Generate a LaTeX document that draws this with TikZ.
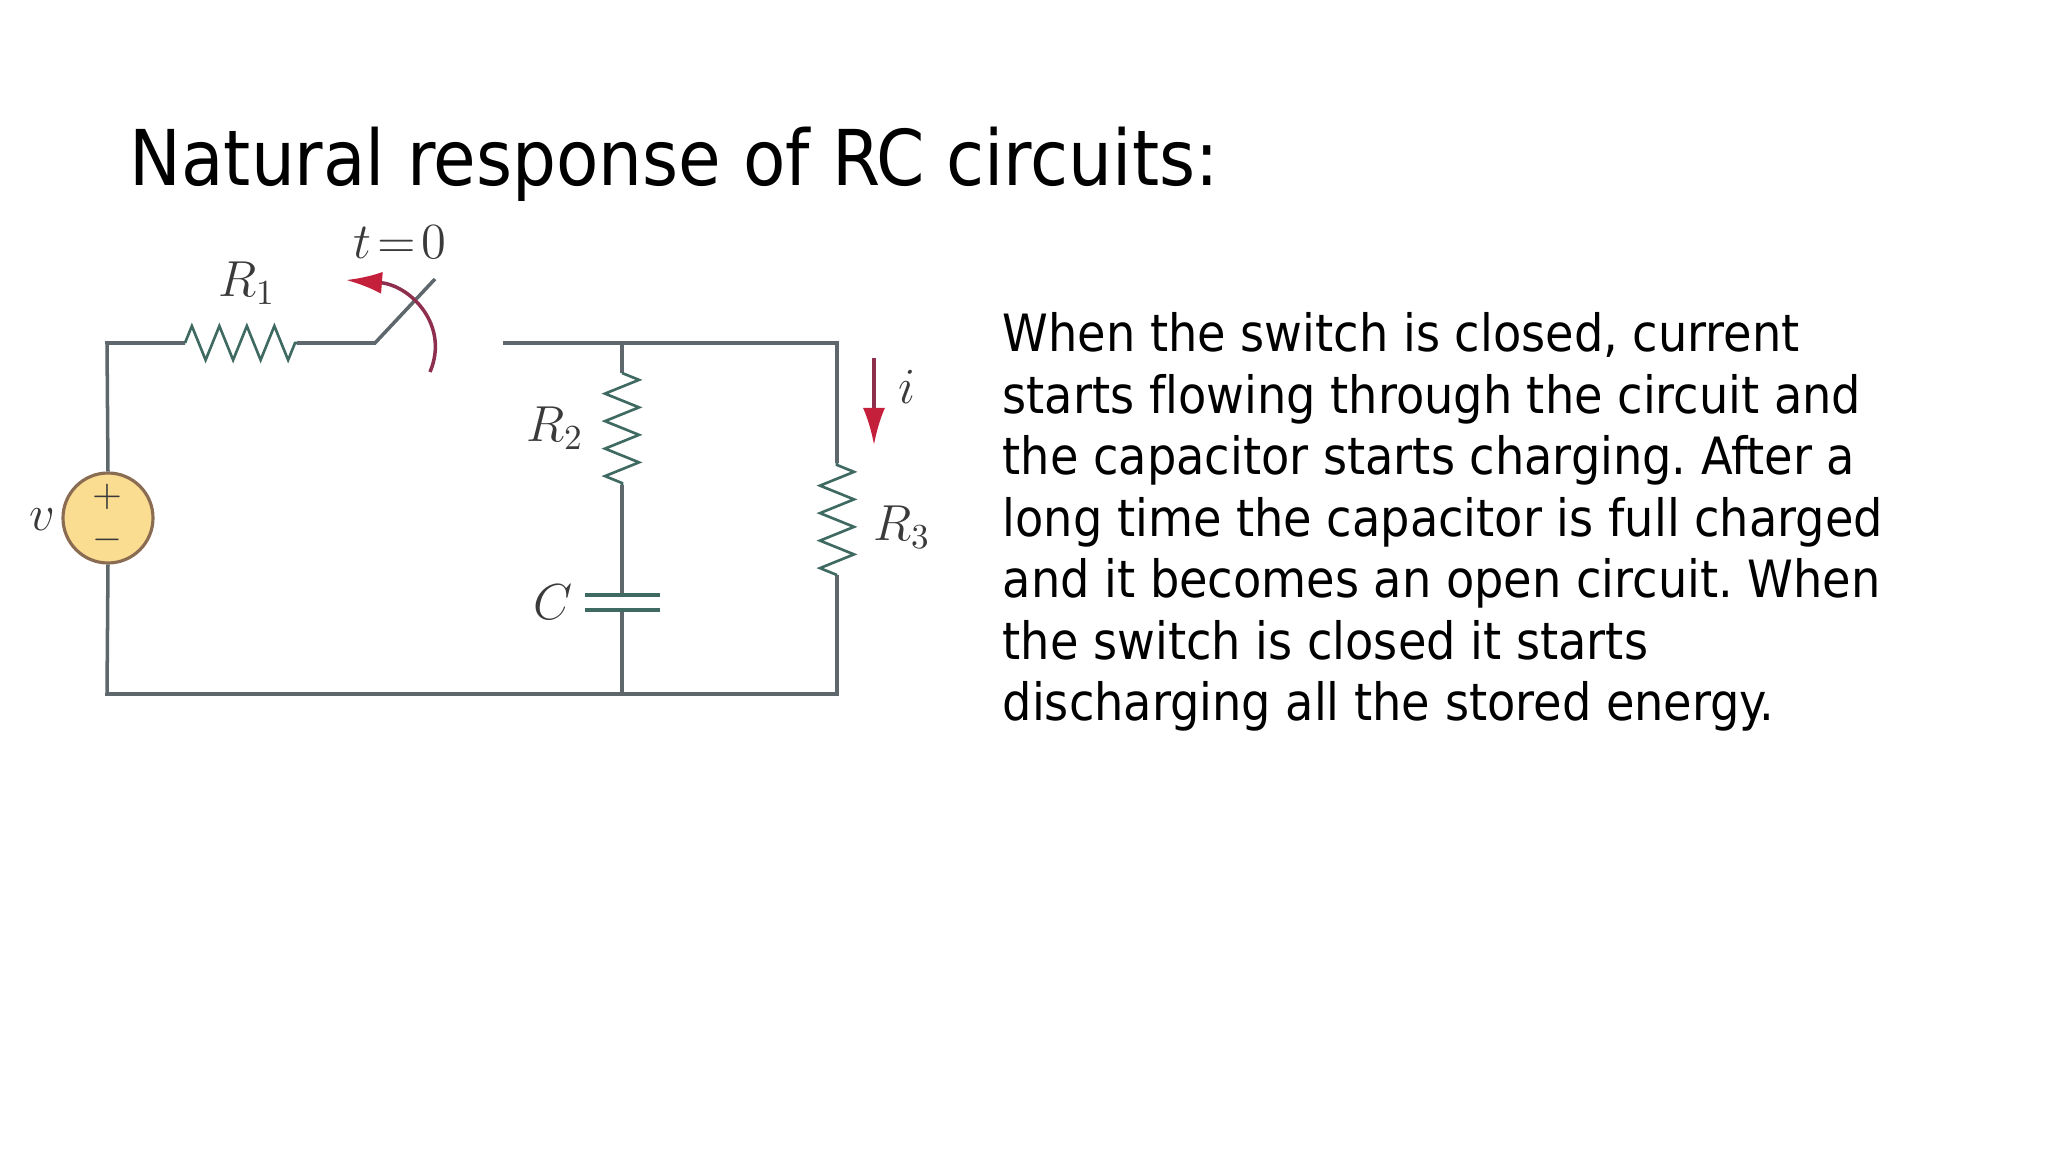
\documentclass[tikz,border=0pt]{standalone}
\usepackage{xcolor}
\usepackage{fontspec}
\setmainfont[Ligatures=CommonOff]{DejaVu Sans Condensed}
\usetikzlibrary{arrows.meta,decorations.pathmorphing}

\definecolor{wire}{HTML}{5E686C}
\definecolor{rescol}{HTML}{3E6A62}
\definecolor{srcfill}{HTML}{FBDD92}
\definecolor{srcline}{HTML}{8A6C52}
\definecolor{arcred}{HTML}{8E2F4E}
\definecolor{headred}{HTML}{C4203C}
\definecolor{labelcol}{HTML}{3A3A3A}

\tikzset{
  wireline/.style={draw=wire, line width=1pt},
  resistor/.style={draw=rescol, line width=0.75pt, decorate,
    decoration={zigzag, segment length=0.275cm, amplitude=0.17cm}},
  plate/.style={draw=rescol, line width=1pt},
  complabel/.style={text=labelcol, inner sep=0pt, font=\fontsize{14.4}{17}\selectfont},
  signlabel/.style={text=labelcol, inner sep=0pt, font=\fontsize{11}{13}\selectfont},
}

\begin{document}
\frenchspacing
\begin{tikzpicture}
\useasboundingbox (0,0) rectangle (20.48,-11.52);

\node (title) at (1.29,-1.86) [anchor=base west, inner sep=0pt, font=\fontsize{21.9}{26}\selectfont] {Natural response of RC circuits:};

\node (body) at (10.02,-3.12) [anchor=north west, inner sep=0pt, align=left, font=\fontsize{14.63}{17.5}\selectfont] {When the switch is closed, current\\
starts flowing through the circuit and\\
the capacitor starts charging. After a\\
long time the capacitor is full charged\\
and it becomes an open circuit. When\\
the switch is closed it starts\\
discharging all the stored energy.};

\coordinate (topleft) at (1.07,-3.43);
\coordinate (botleft) at (1.07,-6.94);
\coordinate (r1in) at (1.85,-3.43);
\coordinate (r1out) at (2.97,-3.43);
\coordinate (pivot) at (3.75,-3.43);
\coordinate (swtip) at (4.35,-2.79);
\coordinate (contact) at (5.03,-3.43);
\coordinate (midtop) at (6.22,-3.43);
\coordinate (midbot) at (6.22,-6.94);
\coordinate (r2in) at (6.22,-3.73);
\coordinate (r2out) at (6.22,-4.85);
\coordinate (capup) at (6.22,-5.95);
\coordinate (capdn) at (6.22,-6.10);
\coordinate (righttop) at (8.37,-3.43);
\coordinate (rightbot) at (8.37,-6.94);
\coordinate (r3in) at (8.37,-4.63);
\coordinate (r3out) at (8.37,-5.75);

\node (src) at (1.08,-5.18) [circle, draw=srcline, fill=srcfill, line width=0.9pt, minimum size=0.9cm, inner sep=0pt] {};
\node (plus) at (1.07,-4.97) [signlabel] {$+$};
\node (minus) at (1.07,-5.40) [signlabel] {$-$};

\draw[wireline] (src.north) -- (topleft) -- (r1in);
\draw[resistor] (r1in) -- (r1out);
\draw[wireline] (r1out) -- (pivot) -- (swtip);
\draw[wireline] (src.south) -- (botleft) -- (rightbot) -- (r3out);
\draw[resistor] (r3out) -- (r3in);
\draw[wireline] (r3in) -- (righttop) -- (contact);

\draw[wireline] (midtop) -- (r2in);
\draw[resistor] (r2in) -- (r2out);
\draw[wireline] (r2out) -- (capup);
\draw[wireline] (capdn) -- (midbot);
\draw[plate] (5.85,-5.95) -- (6.60,-5.95);
\draw[plate] (5.85,-6.10) -- (6.60,-6.10);

\coordinate (arcstart) at (4.30,-3.72);
\coordinate (arcend) at (3.46,-2.80);
\draw[draw=arcred, line width=1pt, -{Latex[color=headred,length=0.36cm,width=0.22cm]}] (arcstart) .. controls (4.50,-3.25) and (4.10,-2.85) .. (arcend);

\coordinate (itop) at (8.74,-3.58);
\coordinate (ibot) at (8.74,-4.45);
\draw[draw=arcred, line width=1pt, -{Latex[color=headred,length=0.37cm,width=0.22cm]}] (itop) -- (ibot);

\node (vlabel) at (0.42,-5.20) [complabel] {$v$};
\node (r1label) at (2.47,-2.83) [complabel] {$R_1$};
\node (tlabel) at (4.00,-2.42) [complabel] {$t\!=\!0$};
\node (r2label) at (5.55,-4.28) [complabel] {$R_2$};
\node (clabel) at (5.53,-6.02) [complabel] {$C$};
\node (ilabel) at (9.07,-3.87) [complabel] {$i$};
\node (r3label) at (9.02,-5.27) [complabel] {$R_3$};
\end{tikzpicture}
\end{document}
